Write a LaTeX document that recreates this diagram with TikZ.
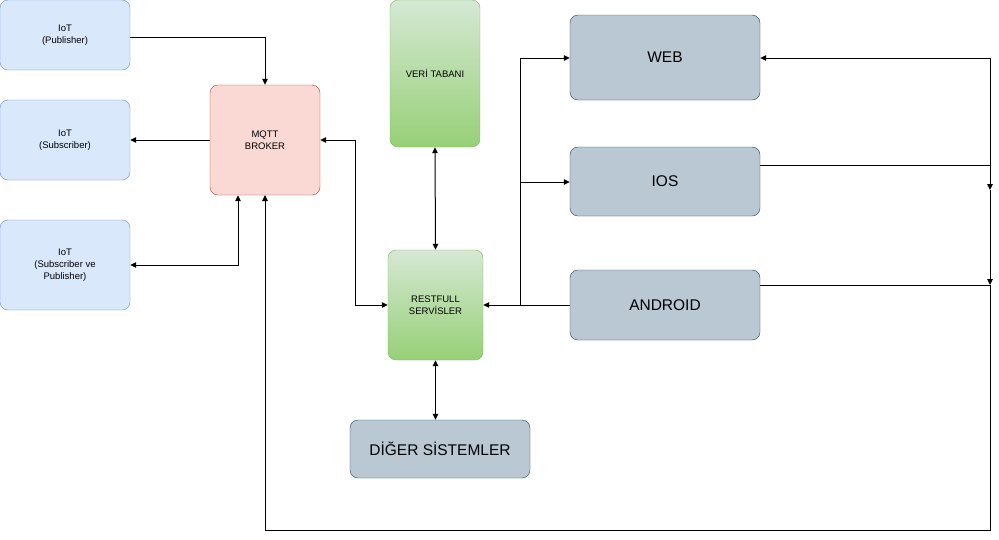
\documentclass[tikz,border=0pt]{standalone}
\usepackage{fontspec}
\setmainfont{Liberation Sans}
\usetikzlibrary{arrows.meta}
\definecolor{bfill}{HTML}{DAE8FC}\definecolor{bline}{HTML}{6C8EBF}
\definecolor{rfill}{HTML}{FAD9D5}\definecolor{rline}{HTML}{AE4132}
\definecolor{gtop}{HTML}{D5E8D4}\definecolor{gbot}{HTML}{97D077}\definecolor{gline}{HTML}{82B366}
\definecolor{sfill}{HTML}{BAC8D3}\definecolor{sline}{HTML}{23445D}
\begin{document}
\begin{tikzpicture}[x=1pt,y=-1pt,
 box/.style={draw,rounded corners=8pt,align=center,inner sep=0pt},
 iot/.style={box,fill=bfill,draw=bline,minimum width=130pt,font=\fontsize{9.5}{12}\selectfont},
 grn/.style={box,top color=gtop,bottom color=gbot,draw=gline,font=\fontsize{9.5}{12}\selectfont},
 sys/.style={box,fill=sfill,draw=sline,minimum width=190pt,font=\fontsize{15.5}{18}\selectfont},
 ar/.style={-{Triangle[length=6pt,width=5.5pt]},line width=1pt},
 dar/.style={{Triangle[length=6pt,width=5.5pt]}-{Triangle[length=6pt,width=5.5pt]},line width=1pt},
 ln/.style={line width=1pt}]
\useasboundingbox (0,0) rectangle (999,539);
\node[iot,minimum height=70pt] (p) at (65,35) {IoT\\(Publisher)};
\node[iot,minimum height=80pt] (s) at (65,140) {IoT\\(Subscriber)};
\node[iot,minimum height=90pt] (sp) at (65,265) {IoT\\(Subscriber ve\\Publisher)};
\node[box,fill=rfill,draw=rline,minimum width=110pt,minimum height=110pt,font=\fontsize{9.5}{12}\selectfont] (m) at (265,140) {MQTT\\BROKER};
\node[grn,minimum width=90pt,minimum height=147pt] (v) at (435,73.5) {VERİ TABANI};
\node[grn,minimum width=95pt,minimum height=110pt] (r) at (435.5,305) {RESTFULL\\SERVİSLER};
\node[box,fill=sfill,draw=sline,minimum width=180pt,minimum height=58pt,font=\fontsize{15.5}{18}\selectfont] (d) at (440,449) {DİĞER SİSTEMLER};
\node[sys,minimum height=85pt] (w) at (665,57.5) {WEB};
\node[sys,minimum height=69pt] (i) at (665,181.5) {IOS};
\node[sys,minimum height=70pt] (a) at (665,305) {ANDROID};
\coordinate (c1) at (265,37);
\coordinate (c2) at (238,265);
\coordinate (c3) at (355,140);
\coordinate (c4) at (355,305);
\coordinate (j) at (520,305);
\coordinate (jw) at (520,58);
\coordinate (ji) at (520,182);
\coordinate (rt) at (990,58);
\coordinate (ri) at (990,165);
\coordinate (ra) at (990,285);
\coordinate (rb) at (990,530);
\coordinate (lb) at (265,530);
\coordinate (mb) at (265,195);
\draw[ar] (p.east|-c1) -- (c1) -- (m.north);
\draw[ar] (m.west) -- (s.east);
\draw[dar] (sp.east|-c2) -- (c2) -- (c2|-m.south);
\draw[dar] (m.east) -- (c3) -- (c4) -- (r.west);
\draw[dar] (v.south) -- (r.north);
\draw[dar] (r.south) -- (r.south|-d.north);
\draw[ar] (a.west) -- (r.east);
\draw[ar] (j) -- (jw) -- (w.west|-jw);
\draw[ar] (ji) -- (i.west|-ji);
\draw[ar] (rt) -- (w.east|-rt);
\draw[ln] (i.east|-ri) -- (ri);
\draw[ln] (a.east|-ra) -- (ra);
\draw[ar] (rt) -- (990,190);
\draw[ar] (990,190) -- (ra);
\draw[ar] (ra) -- (rb) -- (lb) -- (mb);
\end{tikzpicture}
\end{document}
